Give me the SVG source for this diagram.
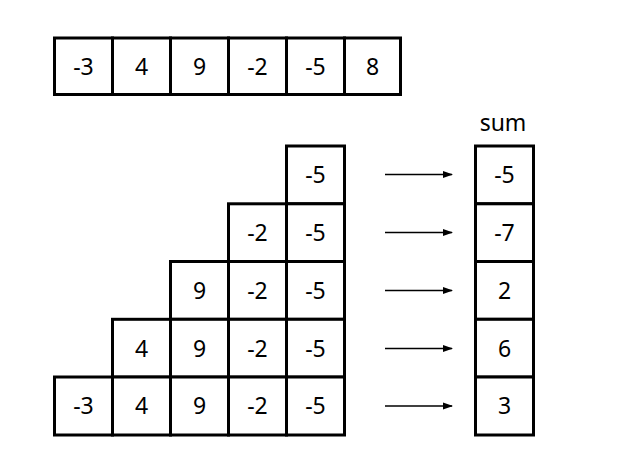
<svg xmlns="http://www.w3.org/2000/svg" width="620" height="476" viewBox="0 0 620 476">
<style>
.c{fill:#fff;stroke:#000;stroke-width:3}
.t{font-family:"Noto Sans","Liberation Sans",sans-serif;font-size:23px;fill:#000;text-anchor:middle;dominant-baseline:central}
.a{stroke:#000;stroke-width:1.5;fill:none;marker-end:url(#ah)}
</style>
<defs>
<marker id="ah" markerWidth="10" markerHeight="8" refX="9" refY="4" orient="auto" markerUnits="userSpaceOnUse">
<path d="M0,0.5 L10,4 L0,7.5 Z" fill="#000"/>
</marker>
</defs>
<rect width="620" height="476" fill="#fff"/>
<g id="top">
<rect class="c" x="54.5" y="38" width="58" height="56.5"/><text class="t" x="83.5" y="66">-3</text>
<rect class="c" x="112.5" y="38" width="58" height="56.5"/><text class="t" x="141.5" y="66">4</text>
<rect class="c" x="170.5" y="38" width="58" height="56.5"/><text class="t" x="199.5" y="66">9</text>
<rect class="c" x="228.5" y="38" width="58" height="56.5"/><text class="t" x="257.5" y="66">-2</text>
<rect class="c" x="286.5" y="38" width="58" height="56.5"/><text class="t" x="315.5" y="66">-5</text>
<rect class="c" x="344.5" y="38" width="56" height="56.5"/><text class="t" x="372.5" y="66">8</text>
</g>
<g id="row1">
<rect class="c" x="286.5" y="146" width="58" height="57.8"/><text class="t" x="315.5" y="174">-5</text>
</g>
<g id="row2">
<rect class="c" x="228.5" y="203.8" width="58" height="57.8"/><text class="t" x="257.5" y="232">-2</text>
<rect class="c" x="286.5" y="203.8" width="58" height="57.8"/><text class="t" x="315.5" y="232">-5</text>
</g>
<g id="row3">
<rect class="c" x="170.5" y="261.5" width="58" height="57.8"/><text class="t" x="199.5" y="289.5">9</text>
<rect class="c" x="228.5" y="261.5" width="58" height="57.8"/><text class="t" x="257.5" y="289.5">-2</text>
<rect class="c" x="286.5" y="261.5" width="58" height="57.8"/><text class="t" x="315.5" y="289.5">-5</text>
</g>
<g id="row4">
<rect class="c" x="112.5" y="319.3" width="58" height="57.8"/><text class="t" x="141.5" y="347.5">4</text>
<rect class="c" x="170.5" y="319.3" width="58" height="57.8"/><text class="t" x="199.5" y="347.5">9</text>
<rect class="c" x="228.5" y="319.3" width="58" height="57.8"/><text class="t" x="257.5" y="347.5">-2</text>
<rect class="c" x="286.5" y="319.3" width="58" height="57.8"/><text class="t" x="315.5" y="347.5">-5</text>
</g>
<g id="row5">
<rect class="c" x="54.5" y="377" width="58" height="58"/><text class="t" x="83.5" y="405">-3</text>
<rect class="c" x="112.5" y="377" width="58" height="58"/><text class="t" x="141.5" y="405">4</text>
<rect class="c" x="170.5" y="377" width="58" height="58"/><text class="t" x="199.5" y="405">9</text>
<rect class="c" x="228.5" y="377" width="58" height="58"/><text class="t" x="257.5" y="405">-2</text>
<rect class="c" x="286.5" y="377" width="58" height="58"/><text class="t" x="315.5" y="405">-5</text>
</g>
<g id="sum">
<text class="t" x="503" y="122">sum</text>
<rect class="c" x="475.5" y="146" width="58" height="57.8"/><text class="t" x="504.5" y="174">-5</text>
<rect class="c" x="475.5" y="203.8" width="58" height="57.8"/><text class="t" x="504.5" y="232">-7</text>
<rect class="c" x="475.5" y="261.5" width="58" height="57.8"/><text class="t" x="504.5" y="289.5">2</text>
<rect class="c" x="475.5" y="319.3" width="58" height="57.8"/><text class="t" x="504.5" y="347.5">6</text>
<rect class="c" x="475.5" y="377" width="58" height="58"/><text class="t" x="504.5" y="405">3</text>
</g>
<g id="connectors">
<line class="a" x1="385" y1="174.5" x2="452" y2="174.5"/>
<line class="a" x1="385" y1="232.5" x2="452" y2="232.5"/>
<line class="a" x1="385" y1="290.5" x2="452" y2="290.5"/>
<line class="a" x1="385" y1="348.5" x2="452" y2="348.5"/>
<line class="a" x1="385" y1="406" x2="452" y2="406"/>
</g>
</svg>
